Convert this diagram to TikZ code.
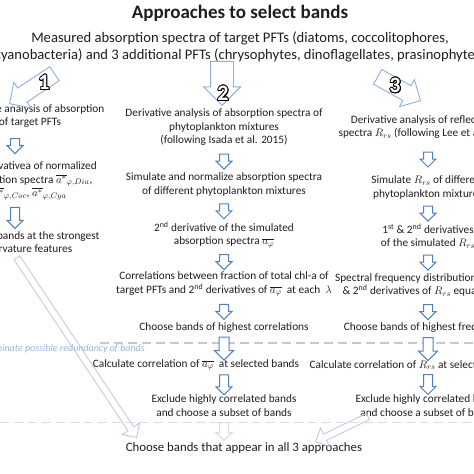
\documentclass[tikz,border=0pt]{standalone}
\usepackage{fontspec}
\setmainfont{Carlito}
\usepackage{contour}
\contourlength{0.9pt}
\usetikzlibrary{shapes.arrows,calc}
\definecolor{txt}{RGB}{30,30,30}
\definecolor{arrblue}{RGB}{79,129,189}
\definecolor{bigblue}{RGB}{141,176,222}
\definecolor{dashblue}{RGB}{184,204,228}
\definecolor{notecol}{RGB}{150,182,218}
\definecolor{lav}{RGB}{196,200,224}
\definecolor{pale}{RGB}{214,222,236}
\begin{document}
\begin{tikzpicture}[x=1pt, y=-1pt,
    every node/.style={font=\fontsize{11.3}{13.5}\selectfont, align=center, text=txt, inner sep=1pt},
    darr/.style={single arrow, draw=arrblue, fill=white, line width=1pt, minimum width=15pt,
        minimum height=#1, single arrow head extend=3.5pt, inner xsep=0pt, inner ysep=4pt,
        sloped, allow upside down},
    darr/.default=15pt,
    bigarr/.style={single arrow, draw=bigblue, fill=white, line width=0.9pt, minimum width=36pt,
        minimum height=#1, single arrow head extend=7pt, inner xsep=0pt, inner ysep=11pt,
        sloped, allow upside down, pos=1, anchor=tip},
    diagarr/.style={single arrow, draw=lav, line width=0.9pt, minimum width=20pt,
        minimum height=#1, single arrow head extend=7pt, inner xsep=0pt, inner ysep=3pt,
        sloped, allow upside down, pos=1, anchor=tip},
    num/.style={font=\fontsize{22}{22}\selectfont\bfseries, text=white},
    note/.style={font=\fontsize{10}{12}\selectfont\itshape, text=notecol}
]
\useasboundingbox (0,0) rectangle (474,474);
\clip (0,0) rectangle (474,474);

% heading
\node[font=\fontsize{19}{20}\selectfont\bfseries] (title) at (240,13) {Approaches to select bands};
\node[font=\fontsize{14.6}{17}\selectfont] (sub) at (240,46.5)
    {Measured absorption spectra of target PFTs (diatoms, coccolitophores,\\
     cyanobacteria) and 3 additional PFTs (chrysophytes, dinoflagellates, prasinophytes)};

% approach 1
\node (c1a) at (30,116) {Derivative analysis of absorption\\of target PFTs};
\node (c1b) at (30,180) {2\textsuperscript{nd} derivativea of normalized\\
    absorption spectra $\overline{a^{*}}_{\varphi,Dia}$,\\
    $\overline{a^{*}}_{\varphi,Coc}$, $\overline{a^{*}}_{\varphi,Cya}$};
\node (c1c) at (30,242) {Choose bands at the strongest\\curvature features};

% approach 2
\node (c2a) at (224,127.5) {Derivative analysis of absorption spectra of\\phytoplankton mixtures\\(following Isada et al. 2015)};
\node (c2b) at (224,184.5) {Simulate and normalize absorption spectra\\of different phytoplankton mixtures};
\node (c2c) at (224,235) {2\textsuperscript{nd} derivative of the simulated\\absorption spectra $\overline{a_{\varphi}}$};
\node (c2d) at (224,284) {Correlations between fraction of total chl-a of\\
    target PFTs and 2\textsuperscript{nd} derivatives of $\overline{a_{\varphi}}$\ \ at each\ \ $\lambda$};
\node (c2e) at (224,328) {Choose bands of highest correlations};
\node (c2f) at (196,365) {Calculate correlation of $\overline{a_{\varphi}}$\ \ at selected bands};
\node (c2g) at (224,405.5) {Exclude highly correlated bands\\and choose a subset of bands};

% approach 3
\node (c3a) at (426,127) {Derivative analysis of reflectance\\spectra $R_{rs}$ (following Lee et al. 2007)};
\node (c3b) at (428,187.5) {Simulate $R_{rs}$ of different\\phytoplankton mixtures};
\node (c3c) at (428,236) {1\textsuperscript{st} \& 2\textsuperscript{nd} derivatives\\of the simulated $R_{rs}$};
\node (c3d) at (428,284.5) {Spectral frequency distribution of the 1\textsuperscript{st}\\
    \& 2\textsuperscript{nd} derivatives of $R_{rs}$ equal to zero};
\node (c3e) at (428,328) {Choose bands of highest frequencies};
\node (c3f) at (414,365) {Calculate correlation of $R_{rs}$ at selected bands};
\node (c3g) at (428,405.5) {Exclude highly correlated bands\\and choose a subset of bands};

% result
\node[font=\fontsize{12.8}{14}\selectfont] (fin) at (244,448) {Choose bands that appear in all 3 approaches};

% redundancy step
\draw[dashblue, line width=1.3pt, dash pattern=on 9pt off 5pt] (100,343) -- (474,343);
\draw[pale, line width=0.8pt, dash pattern=on 9pt off 5pt] (0,422) -- (474,422);
\node[note, anchor=east] (redund) at (146,349) {Eliminate possible redundancy of bands};

% big numbered arrows
\coordinate (b1a) at (54,74);   \coordinate (b1b) at (9,104);
\coordinate (b2a) at (222,62);  \coordinate (b2b) at (222,106);
\coordinate (b3a) at (378,77);  \coordinate (b3b) at (421,101);
\path (b1a) -- node[bigarr=54pt, minimum width=30pt, inner ysep=8pt]{} (b1b);
\path (b2a) -- node[bigarr=44pt]{} (b2b);
\path (b3a) -- node[bigarr=49pt, minimum width=30pt, inner ysep=8pt]{} (b3b);
\node[num] (n1) at (44,83) {\contour{black}{1}};
\node[num] (n2) at (223,94) {\contour{black}{2}};
\node[num] (n3) at (395,86) {\contour{black}{3}};

% step arrows
\coordinate (c1x) at (15,0);
\path (c1a.south -| c1x) -- node[darr]{} (c1b.north -| c1x);
\path (c1b.south -| c1x) -- node[darr=21pt]{} (c1c.north -| c1x);
\foreach \k in {2,3}{
  \path (c\k a.south -| c\k b) -- node[darr]{} (c\k b);
  \path (c\k b) -- node[darr]{} (c\k c);
  \path (c\k c) -- node[darr]{} (c\k d);
  \path (c\k d) -- node[darr]{} (c\k e);
  \path (c\k e.south) -- node[darr=23pt, minimum width=18pt, inner ysep=4.5pt, single arrow head extend=4.5pt]{} (c\k e.south |- c\k f.north);
  \path (c\k g.north |- c\k f.south) -- node[darr=20pt]{} (c\k g.north);
}

% towards the result
\coordinate (d1a) at (17,258);  \coordinate (d1b) at (137,438);
\coordinate (d3a) at (367,417); \coordinate (d3b) at (315,442);
\path (d1a) -- node[diagarr=216pt]{} (d1b);
\path (d3a) -- node[diagarr=58pt, minimum width=18pt]{} (d3b);
\path (c2g.south) -- node[darr=18pt, draw=pale]{} (c2g.south |- fin.north);
\end{tikzpicture}
\end{document}
